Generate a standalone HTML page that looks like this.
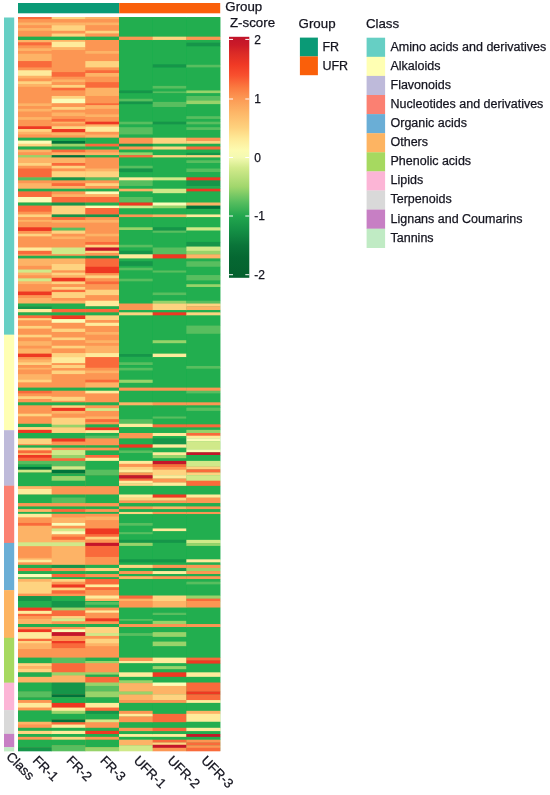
<!DOCTYPE html>
<html><head><meta charset="utf-8"><title>Heatmap</title>
<style>
html,body{margin:0;padding:0;background:#fff;}
body{width:550px;height:795px;overflow:hidden;font-family:"Liberation Sans",sans-serif;}
svg{display:block}
.h{font-family:"Liberation Sans",sans-serif;font-size:13.3px;fill:#14141f;stroke:#14141f;stroke-width:0.25px;}
.k{font-family:"Liberation Sans",sans-serif;font-size:12px;fill:#14141f;stroke:#14141f;stroke-width:0.25px;}
.t{font-family:"Liberation Sans",sans-serif;font-size:12.5px;fill:#14141f;stroke:#14141f;stroke-width:0.25px;}
</style></head><body>
<svg width="550" height="795" viewBox="0 0 550 795">
<defs>
<linearGradient id="zs" x1="0" y1="0" x2="0" y2="1">
<stop offset="0" stop-color="#c0142a"/>
<stop offset="0.034" stop-color="#cb1a28"/>
<stop offset="0.066" stop-color="#da2a26"/>
<stop offset="0.116" stop-color="#f03a25"/>
<stop offset="0.16" stop-color="#f8502e"/>
<stop offset="0.21" stop-color="#fb7a40"/>
<stop offset="0.258" stop-color="#fc9a55"/>
<stop offset="0.316" stop-color="#fdb768"/>
<stop offset="0.378" stop-color="#fed27e"/>
<stop offset="0.423" stop-color="#feea98"/>
<stop offset="0.47" stop-color="#fcfbb0"/>
<stop offset="0.5" stop-color="#f4fab2"/>
<stop offset="0.544" stop-color="#d2ea8b"/>
<stop offset="0.623" stop-color="#a0d66c"/>
<stop offset="0.685" stop-color="#58be5f"/>
<stop offset="0.7435" stop-color="#22a74e"/>
<stop offset="0.804" stop-color="#148f45"/>
<stop offset="0.866" stop-color="#0a7439"/>
<stop offset="0.914" stop-color="#056832"/>
<stop offset="1" stop-color="#04602e"/>
</linearGradient>
<filter id="bl" x="-0.02" y="-0.01" width="1.04" height="1.02"><feGaussianBlur stdDeviation="0.35 0.75"/></filter>
</defs>
<rect width="550" height="795" fill="#fff"/>
<rect x="18" y="3" width="101.2" height="10.3" fill="#0a9a76"/>
<rect x="119.2" y="3" width="101" height="10.3" fill="#fa5f0a"/>
<g id="hm" filter="url(#bl)">
<rect x="18" y="17.5" width="101.2" height="733.5" fill="#fc9653"/>
<rect x="119.2" y="17.5" width="101" height="733.5" fill="#20ae4f"/>
<rect x="18.00" y="17.00" width="33.97" height="2.50" fill="#f96a3a"/>
<rect x="18.00" y="19.20" width="33.97" height="3.61" fill="#fc9653"/>
<rect x="18.00" y="22.51" width="33.97" height="3.05" fill="#fdb366"/>
<rect x="18.00" y="25.26" width="33.97" height="3.05" fill="#fc9653"/>
<rect x="18.00" y="28.02" width="33.97" height="3.05" fill="#fdb366"/>
<rect x="18.00" y="30.77" width="33.97" height="6.18" fill="#fc9653"/>
<rect x="18.00" y="36.65" width="33.97" height="3.61" fill="#20ae4f"/>
<rect x="18.00" y="39.96" width="33.97" height="2.69" fill="#fdb366"/>
<rect x="18.00" y="42.34" width="33.97" height="3.42" fill="#f96a3a"/>
<rect x="18.00" y="45.47" width="33.97" height="3.05" fill="#fc9653"/>
<rect x="18.00" y="48.22" width="33.97" height="3.05" fill="#fdb366"/>
<rect x="18.00" y="50.98" width="33.97" height="3.05" fill="#fc9653"/>
<rect x="18.00" y="53.73" width="33.97" height="7.65" fill="#fdb366"/>
<rect x="18.00" y="61.08" width="33.97" height="6.73" fill="#f96a3a"/>
<rect x="18.00" y="67.51" width="33.97" height="3.05" fill="#fc9653"/>
<rect x="18.00" y="70.26" width="33.97" height="5.81" fill="#feeb9c"/>
<rect x="18.00" y="75.77" width="33.97" height="3.05" fill="#fdb366"/>
<rect x="18.00" y="78.52" width="33.97" height="3.05" fill="#fc9653"/>
<rect x="18.00" y="81.28" width="33.97" height="3.05" fill="#fed380"/>
<rect x="18.00" y="84.03" width="33.97" height="3.05" fill="#fdb366"/>
<rect x="18.00" y="86.79" width="33.97" height="16.83" fill="#fc9653"/>
<rect x="18.00" y="103.32" width="33.97" height="3.05" fill="#fdb366"/>
<rect x="18.00" y="106.07" width="33.97" height="3.05" fill="#fc9653"/>
<rect x="18.00" y="108.83" width="33.97" height="3.05" fill="#fdb366"/>
<rect x="18.00" y="111.58" width="33.97" height="5.81" fill="#fc9653"/>
<rect x="18.00" y="117.09" width="33.97" height="3.05" fill="#fdb366"/>
<rect x="18.00" y="119.85" width="33.97" height="6.73" fill="#fc9653"/>
<rect x="18.00" y="126.27" width="33.97" height="3.05" fill="#ee3824"/>
<rect x="18.00" y="129.03" width="33.97" height="3.05" fill="#fed380"/>
<rect x="18.00" y="131.78" width="33.97" height="3.05" fill="#fdb366"/>
<rect x="18.00" y="134.54" width="33.97" height="3.42" fill="#fc9653"/>
<rect x="18.00" y="137.66" width="33.97" height="3.24" fill="#20ae4f"/>
<rect x="18.00" y="140.60" width="33.97" height="3.42" fill="#fbfcb8"/>
<rect x="18.00" y="143.72" width="33.97" height="3.05" fill="#fed380"/>
<rect x="18.00" y="146.48" width="33.97" height="3.42" fill="#20ae4f"/>
<rect x="18.00" y="149.60" width="33.97" height="3.05" fill="#fdb366"/>
<rect x="18.00" y="152.35" width="33.97" height="3.05" fill="#fc9653"/>
<rect x="18.00" y="155.11" width="33.97" height="2.69" fill="#98d36a"/>
<rect x="18.00" y="157.50" width="33.97" height="5.81" fill="#fdb366"/>
<rect x="51.67" y="17.00" width="33.97" height="2.50" fill="#fed380"/>
<rect x="51.67" y="19.20" width="33.97" height="3.61" fill="#fc9653"/>
<rect x="51.67" y="22.51" width="33.97" height="3.05" fill="#fdb366"/>
<rect x="51.67" y="25.26" width="33.97" height="5.81" fill="#fed380"/>
<rect x="51.67" y="30.77" width="33.97" height="3.05" fill="#fc9653"/>
<rect x="51.67" y="33.53" width="33.97" height="3.42" fill="#fed380"/>
<rect x="51.67" y="36.65" width="33.97" height="3.61" fill="#20ae4f"/>
<rect x="51.67" y="39.96" width="33.97" height="2.14" fill="#fdb366"/>
<rect x="51.67" y="41.79" width="33.97" height="5.81" fill="#feeb9c"/>
<rect x="51.67" y="47.30" width="33.97" height="3.05" fill="#fdb366"/>
<rect x="51.67" y="50.06" width="33.97" height="22.34" fill="#fc9653"/>
<rect x="51.67" y="72.10" width="33.97" height="4.89" fill="#f96a3a"/>
<rect x="51.67" y="76.69" width="33.97" height="3.05" fill="#fc9653"/>
<rect x="51.67" y="79.44" width="33.97" height="3.05" fill="#fdb366"/>
<rect x="51.67" y="82.20" width="33.97" height="3.05" fill="#fc9653"/>
<rect x="51.67" y="84.95" width="33.97" height="3.05" fill="#fed380"/>
<rect x="51.67" y="87.71" width="33.97" height="3.05" fill="#f96a3a"/>
<rect x="51.67" y="90.46" width="33.97" height="5.81" fill="#fc9653"/>
<rect x="51.67" y="95.97" width="33.97" height="3.05" fill="#fed380"/>
<rect x="51.67" y="98.73" width="33.97" height="4.89" fill="#fbfcb8"/>
<rect x="51.67" y="103.32" width="33.97" height="3.97" fill="#fc9653"/>
<rect x="51.67" y="106.99" width="33.97" height="3.05" fill="#fed380"/>
<rect x="51.67" y="109.75" width="33.97" height="3.05" fill="#fc9653"/>
<rect x="51.67" y="112.50" width="33.97" height="3.97" fill="#fdb366"/>
<rect x="51.67" y="116.17" width="33.97" height="3.05" fill="#fc9653"/>
<rect x="51.67" y="118.93" width="33.97" height="3.05" fill="#f96a3a"/>
<rect x="51.67" y="121.68" width="33.97" height="2.14" fill="#fdb366"/>
<rect x="51.67" y="123.52" width="33.97" height="3.05" fill="#fc9653"/>
<rect x="51.67" y="126.27" width="33.97" height="3.05" fill="#fed380"/>
<rect x="51.67" y="129.03" width="33.97" height="3.61" fill="#ee3824"/>
<rect x="51.67" y="132.34" width="33.97" height="3.42" fill="#fdb366"/>
<rect x="51.67" y="135.46" width="33.97" height="2.50" fill="#fc9653"/>
<rect x="51.67" y="137.66" width="33.97" height="3.61" fill="#20ae4f"/>
<rect x="51.67" y="140.97" width="33.97" height="3.05" fill="#06733a"/>
<rect x="51.67" y="143.72" width="33.97" height="3.05" fill="#98d36a"/>
<rect x="51.67" y="146.48" width="33.97" height="3.42" fill="#20ae4f"/>
<rect x="51.67" y="149.60" width="33.97" height="3.05" fill="#f96a3a"/>
<rect x="51.67" y="152.35" width="33.97" height="3.05" fill="#fdb366"/>
<rect x="51.67" y="155.11" width="33.97" height="2.69" fill="#06733a"/>
<rect x="51.67" y="157.50" width="33.97" height="5.81" fill="#fdb366"/>
<rect x="85.34" y="17.00" width="33.97" height="2.50" fill="#fdb366"/>
<rect x="85.34" y="19.20" width="33.97" height="3.61" fill="#fc9653"/>
<rect x="85.34" y="22.51" width="33.97" height="3.05" fill="#fdb366"/>
<rect x="85.34" y="25.26" width="33.97" height="5.81" fill="#fc9653"/>
<rect x="85.34" y="30.77" width="33.97" height="3.05" fill="#fed380"/>
<rect x="85.34" y="33.53" width="33.97" height="3.42" fill="#fc9653"/>
<rect x="85.34" y="36.65" width="33.97" height="3.61" fill="#20ae4f"/>
<rect x="85.34" y="39.96" width="33.97" height="11.32" fill="#fc9653"/>
<rect x="85.34" y="50.98" width="33.97" height="3.05" fill="#fdb366"/>
<rect x="85.34" y="53.73" width="33.97" height="7.65" fill="#fc9653"/>
<rect x="85.34" y="61.08" width="33.97" height="6.73" fill="#fed380"/>
<rect x="85.34" y="67.51" width="33.97" height="3.05" fill="#fc9653"/>
<rect x="85.34" y="70.26" width="33.97" height="3.05" fill="#f96a3a"/>
<rect x="85.34" y="73.01" width="33.97" height="3.97" fill="#fdb366"/>
<rect x="85.34" y="76.69" width="33.97" height="5.81" fill="#fc9653"/>
<rect x="85.34" y="82.20" width="33.97" height="5.81" fill="#f96a3a"/>
<rect x="85.34" y="87.71" width="33.97" height="8.56" fill="#fdb366"/>
<rect x="85.34" y="95.97" width="33.97" height="7.65" fill="#fc9653"/>
<rect x="85.34" y="103.32" width="33.97" height="2.14" fill="#f96a3a"/>
<rect x="85.34" y="105.15" width="33.97" height="3.97" fill="#fdb366"/>
<rect x="85.34" y="108.83" width="33.97" height="5.81" fill="#fc9653"/>
<rect x="85.34" y="114.34" width="33.97" height="3.05" fill="#fdb366"/>
<rect x="85.34" y="117.09" width="33.97" height="4.89" fill="#fc9653"/>
<rect x="85.34" y="121.68" width="33.97" height="3.05" fill="#ee3824"/>
<rect x="85.34" y="124.44" width="33.97" height="2.50" fill="#fdb366"/>
<rect x="85.34" y="126.64" width="33.97" height="5.44" fill="#feeb9c"/>
<rect x="85.34" y="131.78" width="33.97" height="3.05" fill="#fc9653"/>
<rect x="85.34" y="134.54" width="33.97" height="3.42" fill="#fdb366"/>
<rect x="85.34" y="137.66" width="33.97" height="6.36" fill="#20ae4f"/>
<rect x="85.34" y="143.72" width="33.97" height="3.05" fill="#f96a3a"/>
<rect x="85.34" y="146.48" width="33.97" height="3.42" fill="#20ae4f"/>
<rect x="85.34" y="149.60" width="33.97" height="3.05" fill="#fc9653"/>
<rect x="85.34" y="152.35" width="33.97" height="3.05" fill="#fdb366"/>
<rect x="85.34" y="155.11" width="33.97" height="2.69" fill="#20ae4f"/>
<rect x="85.34" y="157.50" width="33.97" height="5.81" fill="#fc9653"/>
<rect x="119.01" y="17.00" width="33.97" height="19.95" fill="#20ae4f"/>
<rect x="119.01" y="36.65" width="33.97" height="3.61" fill="#fc9653"/>
<rect x="119.01" y="39.96" width="33.97" height="50.81" fill="#20ae4f"/>
<rect x="119.01" y="90.46" width="33.97" height="3.05" fill="#13954a"/>
<rect x="119.01" y="93.22" width="33.97" height="5.81" fill="#20ae4f"/>
<rect x="119.01" y="98.73" width="33.97" height="3.05" fill="#58be5f"/>
<rect x="119.01" y="101.48" width="33.97" height="3.05" fill="#13954a"/>
<rect x="119.01" y="104.24" width="33.97" height="17.75" fill="#20ae4f"/>
<rect x="119.01" y="121.68" width="33.97" height="3.05" fill="#58be5f"/>
<rect x="119.01" y="124.44" width="33.97" height="3.05" fill="#20ae4f"/>
<rect x="119.01" y="127.19" width="33.97" height="7.65" fill="#58be5f"/>
<rect x="119.01" y="134.54" width="33.97" height="3.42" fill="#20ae4f"/>
<rect x="119.01" y="137.66" width="33.97" height="6.36" fill="#fc9653"/>
<rect x="119.01" y="143.72" width="33.97" height="3.05" fill="#13954a"/>
<rect x="119.01" y="146.48" width="33.97" height="3.42" fill="#fc9653"/>
<rect x="119.01" y="149.60" width="33.97" height="3.05" fill="#20ae4f"/>
<rect x="119.01" y="152.35" width="33.97" height="3.05" fill="#98d36a"/>
<rect x="119.01" y="155.11" width="33.97" height="2.69" fill="#f96a3a"/>
<rect x="119.01" y="157.50" width="33.97" height="5.81" fill="#20ae4f"/>
<rect x="152.68" y="17.00" width="33.97" height="19.95" fill="#20ae4f"/>
<rect x="152.68" y="36.65" width="33.97" height="3.61" fill="#fed380"/>
<rect x="152.68" y="39.96" width="33.97" height="24.73" fill="#20ae4f"/>
<rect x="152.68" y="64.38" width="33.97" height="3.42" fill="#13954a"/>
<rect x="152.68" y="67.51" width="33.97" height="18.67" fill="#20ae4f"/>
<rect x="152.68" y="85.87" width="33.97" height="3.05" fill="#58be5f"/>
<rect x="152.68" y="88.63" width="33.97" height="3.05" fill="#20ae4f"/>
<rect x="152.68" y="91.38" width="33.97" height="2.14" fill="#58be5f"/>
<rect x="152.68" y="93.22" width="33.97" height="8.93" fill="#20ae4f"/>
<rect x="152.68" y="101.85" width="33.97" height="5.44" fill="#58be5f"/>
<rect x="152.68" y="106.99" width="33.97" height="14.99" fill="#20ae4f"/>
<rect x="152.68" y="121.68" width="33.97" height="3.05" fill="#13954a"/>
<rect x="152.68" y="124.44" width="33.97" height="13.52" fill="#20ae4f"/>
<rect x="152.68" y="137.66" width="33.97" height="6.36" fill="#fed380"/>
<rect x="152.68" y="143.72" width="33.97" height="3.05" fill="#20ae4f"/>
<rect x="152.68" y="146.48" width="33.97" height="3.42" fill="#fed380"/>
<rect x="152.68" y="149.60" width="33.97" height="5.81" fill="#20ae4f"/>
<rect x="152.68" y="155.11" width="33.97" height="2.69" fill="#fed380"/>
<rect x="152.68" y="157.50" width="33.97" height="5.81" fill="#20ae4f"/>
<rect x="186.35" y="17.00" width="33.97" height="19.95" fill="#20ae4f"/>
<rect x="186.35" y="36.65" width="33.97" height="3.61" fill="#fc9653"/>
<rect x="186.35" y="39.96" width="33.97" height="3.05" fill="#20ae4f"/>
<rect x="186.35" y="42.71" width="33.97" height="3.97" fill="#13954a"/>
<rect x="186.35" y="46.38" width="33.97" height="18.67" fill="#20ae4f"/>
<rect x="186.35" y="64.75" width="33.97" height="3.05" fill="#58be5f"/>
<rect x="186.35" y="67.51" width="33.97" height="23.26" fill="#20ae4f"/>
<rect x="186.35" y="90.46" width="33.97" height="3.05" fill="#98d36a"/>
<rect x="186.35" y="93.22" width="33.97" height="3.05" fill="#20ae4f"/>
<rect x="186.35" y="95.97" width="33.97" height="4.89" fill="#58be5f"/>
<rect x="186.35" y="100.56" width="33.97" height="3.97" fill="#98d36a"/>
<rect x="186.35" y="104.24" width="33.97" height="12.24" fill="#20ae4f"/>
<rect x="186.35" y="116.17" width="33.97" height="3.05" fill="#58be5f"/>
<rect x="186.35" y="118.93" width="33.97" height="3.05" fill="#20ae4f"/>
<rect x="186.35" y="121.68" width="33.97" height="3.05" fill="#58be5f"/>
<rect x="186.35" y="124.44" width="33.97" height="3.05" fill="#20ae4f"/>
<rect x="186.35" y="127.19" width="33.97" height="3.05" fill="#58be5f"/>
<rect x="186.35" y="129.95" width="33.97" height="8.01" fill="#20ae4f"/>
<rect x="186.35" y="137.66" width="33.97" height="3.61" fill="#fc9653"/>
<rect x="186.35" y="140.97" width="33.97" height="3.05" fill="#fed380"/>
<rect x="186.35" y="143.72" width="33.97" height="3.05" fill="#20ae4f"/>
<rect x="186.35" y="146.48" width="33.97" height="3.42" fill="#f96a3a"/>
<rect x="186.35" y="149.60" width="33.97" height="3.61" fill="#20ae4f"/>
<rect x="186.35" y="152.90" width="33.97" height="2.50" fill="#13954a"/>
<rect x="186.35" y="155.11" width="33.97" height="2.69" fill="#fed380"/>
<rect x="186.35" y="157.50" width="33.97" height="3.05" fill="#20ae4f"/>
<rect x="186.35" y="160.25" width="33.97" height="3.05" fill="#58be5f"/>
<rect x="18.00" y="163.00" width="33.97" height="3.05" fill="#fed380"/>
<rect x="18.00" y="165.75" width="33.97" height="3.05" fill="#fc9653"/>
<rect x="18.00" y="168.51" width="33.97" height="9.12" fill="#f96a3a"/>
<rect x="18.00" y="177.33" width="33.97" height="3.42" fill="#58be5f"/>
<rect x="18.00" y="180.45" width="33.97" height="3.05" fill="#fc9653"/>
<rect x="18.00" y="183.20" width="33.97" height="5.81" fill="#fdb366"/>
<rect x="18.00" y="188.71" width="33.97" height="3.05" fill="#20ae4f"/>
<rect x="18.00" y="191.47" width="33.97" height="5.81" fill="#f96a3a"/>
<rect x="18.00" y="196.98" width="33.97" height="5.81" fill="#fbfcb8"/>
<rect x="18.00" y="202.49" width="33.97" height="3.42" fill="#20ae4f"/>
<rect x="18.00" y="205.61" width="33.97" height="6.36" fill="#f96a3a"/>
<rect x="18.00" y="211.67" width="33.97" height="3.05" fill="#fc9653"/>
<rect x="18.00" y="214.42" width="33.97" height="3.05" fill="#fed380"/>
<rect x="18.00" y="217.18" width="33.97" height="3.05" fill="#fc9653"/>
<rect x="18.00" y="219.93" width="33.97" height="2.14" fill="#fdb366"/>
<rect x="18.00" y="221.77" width="33.97" height="5.81" fill="#fc9653"/>
<rect x="18.00" y="227.28" width="33.97" height="3.97" fill="#ee3824"/>
<rect x="18.00" y="230.95" width="33.97" height="3.05" fill="#fc9653"/>
<rect x="18.00" y="233.71" width="33.97" height="3.05" fill="#fed380"/>
<rect x="18.00" y="236.46" width="33.97" height="11.32" fill="#fc9653"/>
<rect x="18.00" y="247.48" width="33.97" height="3.61" fill="#feeb9c"/>
<rect x="18.00" y="250.79" width="33.97" height="3.79" fill="#f96a3a"/>
<rect x="18.00" y="254.28" width="33.97" height="1.77" fill="#fc9653"/>
<rect x="18.00" y="255.75" width="33.97" height="3.05" fill="#20ae4f"/>
<rect x="18.00" y="258.50" width="33.97" height="7.65" fill="#fdb366"/>
<rect x="18.00" y="265.85" width="33.97" height="3.97" fill="#fc9653"/>
<rect x="18.00" y="269.52" width="33.97" height="3.42" fill="#d0e989"/>
<rect x="18.00" y="272.64" width="33.97" height="3.05" fill="#fdb366"/>
<rect x="18.00" y="275.40" width="33.97" height="3.24" fill="#fc9653"/>
<rect x="18.00" y="278.34" width="33.97" height="3.42" fill="#d0e989"/>
<rect x="18.00" y="281.46" width="33.97" height="3.05" fill="#fdb366"/>
<rect x="18.00" y="284.21" width="33.97" height="7.65" fill="#fc9653"/>
<rect x="18.00" y="291.56" width="33.97" height="3.97" fill="#ee3824"/>
<rect x="18.00" y="295.23" width="33.97" height="3.05" fill="#fc9653"/>
<rect x="18.00" y="297.99" width="33.97" height="5.81" fill="#fdb366"/>
<rect x="18.00" y="303.50" width="33.97" height="3.05" fill="#20ae4f"/>
<rect x="18.00" y="306.25" width="33.97" height="3.05" fill="#13954a"/>
<rect x="51.67" y="163.00" width="33.97" height="3.05" fill="#f96a3a"/>
<rect x="51.67" y="165.75" width="33.97" height="3.05" fill="#fed380"/>
<rect x="51.67" y="168.51" width="33.97" height="3.05" fill="#fc9653"/>
<rect x="51.67" y="171.26" width="33.97" height="6.36" fill="#fed380"/>
<rect x="51.67" y="177.33" width="33.97" height="3.42" fill="#13954a"/>
<rect x="51.67" y="180.45" width="33.97" height="3.05" fill="#fc9653"/>
<rect x="51.67" y="183.20" width="33.97" height="3.05" fill="#f96a3a"/>
<rect x="51.67" y="185.96" width="33.97" height="3.05" fill="#fdb366"/>
<rect x="51.67" y="188.71" width="33.97" height="3.05" fill="#20ae4f"/>
<rect x="51.67" y="191.47" width="33.97" height="3.05" fill="#fc9653"/>
<rect x="51.67" y="194.22" width="33.97" height="3.05" fill="#fdb366"/>
<rect x="51.67" y="196.98" width="33.97" height="5.81" fill="#f96a3a"/>
<rect x="51.67" y="202.49" width="33.97" height="3.42" fill="#13954a"/>
<rect x="51.67" y="205.61" width="33.97" height="9.12" fill="#fed380"/>
<rect x="51.67" y="214.42" width="33.97" height="3.05" fill="#13954a"/>
<rect x="51.67" y="217.18" width="33.97" height="3.05" fill="#f96a3a"/>
<rect x="51.67" y="219.93" width="33.97" height="3.05" fill="#fdb366"/>
<rect x="51.67" y="222.69" width="33.97" height="5.26" fill="#fc9653"/>
<rect x="51.67" y="227.65" width="33.97" height="3.24" fill="#58be5f"/>
<rect x="51.67" y="230.58" width="33.97" height="3.42" fill="#fed380"/>
<rect x="51.67" y="233.71" width="33.97" height="3.05" fill="#fc9653"/>
<rect x="51.67" y="236.46" width="33.97" height="3.05" fill="#fdb366"/>
<rect x="51.67" y="239.22" width="33.97" height="8.56" fill="#fc9653"/>
<rect x="51.67" y="247.48" width="33.97" height="7.10" fill="#d0e989"/>
<rect x="51.67" y="254.28" width="33.97" height="1.77" fill="#fc9653"/>
<rect x="51.67" y="255.75" width="33.97" height="3.05" fill="#20ae4f"/>
<rect x="51.67" y="258.50" width="33.97" height="5.81" fill="#fdb366"/>
<rect x="51.67" y="264.01" width="33.97" height="6.73" fill="#fed380"/>
<rect x="51.67" y="270.44" width="33.97" height="2.50" fill="#fc9653"/>
<rect x="51.67" y="272.64" width="33.97" height="3.05" fill="#fed380"/>
<rect x="51.67" y="275.40" width="33.97" height="2.69" fill="#fdb366"/>
<rect x="51.67" y="277.78" width="33.97" height="3.97" fill="#ee3824"/>
<rect x="51.67" y="281.46" width="33.97" height="3.05" fill="#fed380"/>
<rect x="51.67" y="284.21" width="33.97" height="3.05" fill="#fc9653"/>
<rect x="51.67" y="286.97" width="33.97" height="3.05" fill="#fed380"/>
<rect x="51.67" y="289.72" width="33.97" height="2.69" fill="#f96a3a"/>
<rect x="51.67" y="292.11" width="33.97" height="6.18" fill="#fed380"/>
<rect x="51.67" y="297.99" width="33.97" height="3.05" fill="#fc9653"/>
<rect x="51.67" y="300.74" width="33.97" height="3.05" fill="#fdb366"/>
<rect x="51.67" y="303.50" width="33.97" height="5.81" fill="#20ae4f"/>
<rect x="85.34" y="163.00" width="33.97" height="5.81" fill="#fc9653"/>
<rect x="85.34" y="168.51" width="33.97" height="3.05" fill="#fdb366"/>
<rect x="85.34" y="171.26" width="33.97" height="6.36" fill="#fed380"/>
<rect x="85.34" y="177.33" width="33.97" height="3.42" fill="#58be5f"/>
<rect x="85.34" y="180.45" width="33.97" height="3.05" fill="#fc9653"/>
<rect x="85.34" y="183.20" width="33.97" height="3.05" fill="#fed380"/>
<rect x="85.34" y="185.96" width="33.97" height="3.05" fill="#fc9653"/>
<rect x="85.34" y="188.71" width="33.97" height="3.05" fill="#20ae4f"/>
<rect x="85.34" y="191.47" width="33.97" height="3.05" fill="#fbfcb8"/>
<rect x="85.34" y="194.22" width="33.97" height="3.05" fill="#fdb366"/>
<rect x="85.34" y="196.98" width="33.97" height="5.81" fill="#f96a3a"/>
<rect x="85.34" y="202.49" width="33.97" height="3.42" fill="#20ae4f"/>
<rect x="85.34" y="205.61" width="33.97" height="2.69" fill="#fbfcb8"/>
<rect x="85.34" y="208.00" width="33.97" height="6.73" fill="#f96a3a"/>
<rect x="85.34" y="214.42" width="33.97" height="3.05" fill="#13954a"/>
<rect x="85.34" y="217.18" width="33.97" height="3.05" fill="#fc9653"/>
<rect x="85.34" y="219.93" width="33.97" height="3.05" fill="#fdb366"/>
<rect x="85.34" y="222.69" width="33.97" height="11.32" fill="#fc9653"/>
<rect x="85.34" y="233.71" width="33.97" height="3.05" fill="#fdb366"/>
<rect x="85.34" y="236.46" width="33.97" height="5.81" fill="#fc9653"/>
<rect x="85.34" y="241.97" width="33.97" height="3.05" fill="#f96a3a"/>
<rect x="85.34" y="244.73" width="33.97" height="3.05" fill="#fed380"/>
<rect x="85.34" y="247.48" width="33.97" height="3.61" fill="#c4182a"/>
<rect x="85.34" y="250.79" width="33.97" height="2.50" fill="#fed380"/>
<rect x="85.34" y="252.99" width="33.97" height="3.05" fill="#fc9653"/>
<rect x="85.34" y="255.75" width="33.97" height="3.05" fill="#13954a"/>
<rect x="85.34" y="258.50" width="33.97" height="8.56" fill="#f96a3a"/>
<rect x="85.34" y="266.76" width="33.97" height="6.73" fill="#ee3824"/>
<rect x="85.34" y="273.19" width="33.97" height="2.50" fill="#fc9653"/>
<rect x="85.34" y="275.40" width="33.97" height="3.24" fill="#fed380"/>
<rect x="85.34" y="278.34" width="33.97" height="3.42" fill="#fc9653"/>
<rect x="85.34" y="281.46" width="33.97" height="3.05" fill="#f96a3a"/>
<rect x="85.34" y="284.21" width="33.97" height="5.81" fill="#fc9653"/>
<rect x="85.34" y="289.72" width="33.97" height="5.81" fill="#fed380"/>
<rect x="85.34" y="295.23" width="33.97" height="5.81" fill="#fc9653"/>
<rect x="85.34" y="300.74" width="33.97" height="5.81" fill="#feeb9c"/>
<rect x="85.34" y="306.25" width="33.97" height="3.05" fill="#20ae4f"/>
<rect x="119.01" y="163.00" width="33.97" height="3.05" fill="#20ae4f"/>
<rect x="119.01" y="165.75" width="33.97" height="3.05" fill="#58be5f"/>
<rect x="119.01" y="168.51" width="33.97" height="3.97" fill="#13954a"/>
<rect x="119.01" y="172.18" width="33.97" height="5.44" fill="#20ae4f"/>
<rect x="119.01" y="177.33" width="33.97" height="3.42" fill="#feeb9c"/>
<rect x="119.01" y="180.45" width="33.97" height="5.81" fill="#58be5f"/>
<rect x="119.01" y="185.96" width="33.97" height="3.05" fill="#20ae4f"/>
<rect x="119.01" y="188.71" width="33.97" height="3.05" fill="#fdb366"/>
<rect x="119.01" y="191.47" width="33.97" height="5.81" fill="#20ae4f"/>
<rect x="119.01" y="196.98" width="33.97" height="5.81" fill="#58be5f"/>
<rect x="119.01" y="202.49" width="33.97" height="3.42" fill="#ee3824"/>
<rect x="119.01" y="205.61" width="33.97" height="3.05" fill="#d0e989"/>
<rect x="119.01" y="208.36" width="33.97" height="6.36" fill="#20ae4f"/>
<rect x="119.01" y="214.42" width="33.97" height="3.05" fill="#fc9653"/>
<rect x="119.01" y="217.18" width="33.97" height="10.40" fill="#20ae4f"/>
<rect x="119.01" y="227.28" width="33.97" height="3.05" fill="#98d36a"/>
<rect x="119.01" y="230.03" width="33.97" height="14.99" fill="#20ae4f"/>
<rect x="119.01" y="244.73" width="33.97" height="3.05" fill="#58be5f"/>
<rect x="119.01" y="247.48" width="33.97" height="3.61" fill="#20ae4f"/>
<rect x="119.01" y="250.79" width="33.97" height="3.79" fill="#13954a"/>
<rect x="119.01" y="254.28" width="33.97" height="4.52" fill="#feeb9c"/>
<rect x="119.01" y="258.50" width="33.97" height="3.05" fill="#20ae4f"/>
<rect x="119.01" y="261.26" width="33.97" height="4.89" fill="#13954a"/>
<rect x="119.01" y="265.85" width="33.97" height="2.14" fill="#20ae4f"/>
<rect x="119.01" y="267.68" width="33.97" height="3.05" fill="#58be5f"/>
<rect x="119.01" y="270.44" width="33.97" height="8.56" fill="#20ae4f"/>
<rect x="119.01" y="278.70" width="33.97" height="3.05" fill="#58be5f"/>
<rect x="119.01" y="281.46" width="33.97" height="22.34" fill="#20ae4f"/>
<rect x="119.01" y="303.50" width="33.97" height="5.81" fill="#fc9653"/>
<rect x="152.68" y="163.00" width="33.97" height="14.63" fill="#20ae4f"/>
<rect x="152.68" y="177.33" width="33.97" height="3.42" fill="#d0e989"/>
<rect x="152.68" y="180.45" width="33.97" height="8.56" fill="#20ae4f"/>
<rect x="152.68" y="188.71" width="33.97" height="4.89" fill="#d0e989"/>
<rect x="152.68" y="193.30" width="33.97" height="9.48" fill="#20ae4f"/>
<rect x="152.68" y="202.49" width="33.97" height="3.42" fill="#fbfcb8"/>
<rect x="152.68" y="205.61" width="33.97" height="3.05" fill="#98d36a"/>
<rect x="152.68" y="208.36" width="33.97" height="6.36" fill="#20ae4f"/>
<rect x="152.68" y="214.42" width="33.97" height="3.05" fill="#fdb366"/>
<rect x="152.68" y="217.18" width="33.97" height="10.40" fill="#20ae4f"/>
<rect x="152.68" y="227.28" width="33.97" height="3.61" fill="#13954a"/>
<rect x="152.68" y="230.58" width="33.97" height="2.50" fill="#58be5f"/>
<rect x="152.68" y="232.79" width="33.97" height="14.99" fill="#20ae4f"/>
<rect x="152.68" y="247.48" width="33.97" height="7.10" fill="#58be5f"/>
<rect x="152.68" y="254.28" width="33.97" height="4.52" fill="#ee3824"/>
<rect x="152.68" y="258.50" width="33.97" height="12.24" fill="#20ae4f"/>
<rect x="152.68" y="270.44" width="33.97" height="2.50" fill="#58be5f"/>
<rect x="152.68" y="272.64" width="33.97" height="20.13" fill="#20ae4f"/>
<rect x="152.68" y="292.48" width="33.97" height="3.05" fill="#58be5f"/>
<rect x="152.68" y="295.23" width="33.97" height="5.81" fill="#20ae4f"/>
<rect x="152.68" y="300.74" width="33.97" height="3.05" fill="#98d36a"/>
<rect x="152.68" y="303.50" width="33.97" height="5.81" fill="#fed380"/>
<rect x="186.35" y="163.00" width="33.97" height="5.81" fill="#20ae4f"/>
<rect x="186.35" y="168.51" width="33.97" height="3.97" fill="#58be5f"/>
<rect x="186.35" y="172.18" width="33.97" height="5.44" fill="#20ae4f"/>
<rect x="186.35" y="177.33" width="33.97" height="3.42" fill="#ee3824"/>
<rect x="186.35" y="180.45" width="33.97" height="5.81" fill="#13954a"/>
<rect x="186.35" y="185.96" width="33.97" height="3.05" fill="#20ae4f"/>
<rect x="186.35" y="188.71" width="33.97" height="3.05" fill="#ee3824"/>
<rect x="186.35" y="191.47" width="33.97" height="11.32" fill="#20ae4f"/>
<rect x="186.35" y="202.49" width="33.97" height="3.42" fill="#fdb366"/>
<rect x="186.35" y="205.61" width="33.97" height="3.61" fill="#06733a"/>
<rect x="186.35" y="208.91" width="33.97" height="5.81" fill="#20ae4f"/>
<rect x="186.35" y="214.42" width="33.97" height="3.05" fill="#feeb9c"/>
<rect x="186.35" y="217.18" width="33.97" height="10.40" fill="#20ae4f"/>
<rect x="186.35" y="227.28" width="33.97" height="3.61" fill="#d0e989"/>
<rect x="186.35" y="230.58" width="33.97" height="11.69" fill="#20ae4f"/>
<rect x="186.35" y="241.97" width="33.97" height="4.89" fill="#13954a"/>
<rect x="186.35" y="246.56" width="33.97" height="4.52" fill="#d0e989"/>
<rect x="186.35" y="250.79" width="33.97" height="3.79" fill="#98d36a"/>
<rect x="186.35" y="254.28" width="33.97" height="4.52" fill="#fdb366"/>
<rect x="186.35" y="258.50" width="33.97" height="3.05" fill="#20ae4f"/>
<rect x="186.35" y="261.26" width="33.97" height="5.81" fill="#58be5f"/>
<rect x="186.35" y="266.76" width="33.97" height="8.56" fill="#20ae4f"/>
<rect x="186.35" y="275.03" width="33.97" height="5.81" fill="#58be5f"/>
<rect x="186.35" y="280.54" width="33.97" height="3.97" fill="#20ae4f"/>
<rect x="186.35" y="284.21" width="33.97" height="3.05" fill="#98d36a"/>
<rect x="186.35" y="286.97" width="33.97" height="14.07" fill="#20ae4f"/>
<rect x="186.35" y="300.74" width="33.97" height="3.05" fill="#58be5f"/>
<rect x="186.35" y="303.50" width="33.97" height="3.05" fill="#fed380"/>
<rect x="186.35" y="306.25" width="33.97" height="3.05" fill="#fdb366"/>
<rect x="18.00" y="309.00" width="33.97" height="3.61" fill="#feeb9c"/>
<rect x="18.00" y="312.31" width="33.97" height="3.42" fill="#20ae4f"/>
<rect x="18.00" y="315.43" width="33.97" height="3.05" fill="#f96a3a"/>
<rect x="18.00" y="318.18" width="33.97" height="2.50" fill="#fed380"/>
<rect x="18.00" y="320.39" width="33.97" height="5.81" fill="#fc9653"/>
<rect x="18.00" y="325.90" width="33.97" height="3.05" fill="#fed380"/>
<rect x="18.00" y="328.65" width="33.97" height="6.36" fill="#fc9653"/>
<rect x="18.00" y="334.71" width="33.97" height="3.05" fill="#fed380"/>
<rect x="18.00" y="337.47" width="33.97" height="3.97" fill="#fc9653"/>
<rect x="18.00" y="341.14" width="33.97" height="4.89" fill="#fdb366"/>
<rect x="18.00" y="345.73" width="33.97" height="3.05" fill="#fc9653"/>
<rect x="18.00" y="348.49" width="33.97" height="5.44" fill="#fdb366"/>
<rect x="18.00" y="353.63" width="33.97" height="3.79" fill="#ee3824"/>
<rect x="18.00" y="357.12" width="33.97" height="2.69" fill="#fc9653"/>
<rect x="18.00" y="359.51" width="33.97" height="3.05" fill="#fdb366"/>
<rect x="18.00" y="362.26" width="33.97" height="3.05" fill="#fed380"/>
<rect x="18.00" y="365.01" width="33.97" height="3.05" fill="#fc9653"/>
<rect x="18.00" y="367.77" width="33.97" height="2.14" fill="#fdb366"/>
<rect x="18.00" y="369.61" width="33.97" height="4.89" fill="#fc9653"/>
<rect x="18.00" y="374.20" width="33.97" height="5.81" fill="#fdb366"/>
<rect x="18.00" y="379.71" width="33.97" height="3.05" fill="#fed380"/>
<rect x="18.00" y="382.46" width="33.97" height="5.44" fill="#fc9653"/>
<rect x="18.00" y="387.60" width="33.97" height="3.42" fill="#20ae4f"/>
<rect x="18.00" y="390.73" width="33.97" height="3.05" fill="#f96a3a"/>
<rect x="18.00" y="393.48" width="33.97" height="3.05" fill="#fc9653"/>
<rect x="18.00" y="396.24" width="33.97" height="3.05" fill="#fed380"/>
<rect x="18.00" y="398.99" width="33.97" height="3.61" fill="#fc9653"/>
<rect x="18.00" y="402.30" width="33.97" height="3.42" fill="#20ae4f"/>
<rect x="18.00" y="405.42" width="33.97" height="8.56" fill="#fc9653"/>
<rect x="18.00" y="413.68" width="33.97" height="3.05" fill="#fed380"/>
<rect x="18.00" y="416.44" width="33.97" height="7.65" fill="#fc9653"/>
<rect x="18.00" y="423.78" width="33.97" height="3.61" fill="#20ae4f"/>
<rect x="18.00" y="427.09" width="33.97" height="3.05" fill="#fed380"/>
<rect x="18.00" y="429.84" width="33.97" height="3.42" fill="#ee3824"/>
<rect x="18.00" y="432.97" width="33.97" height="5.81" fill="#20ae4f"/>
<rect x="18.00" y="438.48" width="33.97" height="5.81" fill="#fed380"/>
<rect x="18.00" y="443.99" width="33.97" height="1.59" fill="#fc9653"/>
<rect x="18.00" y="445.27" width="33.97" height="2.69" fill="#20ae4f"/>
<rect x="18.00" y="447.66" width="33.97" height="3.05" fill="#fed380"/>
<rect x="18.00" y="450.41" width="33.97" height="3.05" fill="#f96a3a"/>
<rect x="18.00" y="453.17" width="33.97" height="2.14" fill="#fdb366"/>
<rect x="51.67" y="309.00" width="33.97" height="3.61" fill="#f96a3a"/>
<rect x="51.67" y="312.31" width="33.97" height="3.42" fill="#20ae4f"/>
<rect x="51.67" y="315.43" width="33.97" height="3.97" fill="#ee3824"/>
<rect x="51.67" y="319.10" width="33.97" height="3.97" fill="#fbfcb8"/>
<rect x="51.67" y="322.77" width="33.97" height="6.18" fill="#fc9653"/>
<rect x="51.67" y="328.65" width="33.97" height="3.61" fill="#fed380"/>
<rect x="51.67" y="331.96" width="33.97" height="5.81" fill="#fc9653"/>
<rect x="51.67" y="337.47" width="33.97" height="3.05" fill="#fed380"/>
<rect x="51.67" y="340.22" width="33.97" height="5.81" fill="#fc9653"/>
<rect x="51.67" y="345.73" width="33.97" height="3.05" fill="#fed380"/>
<rect x="51.67" y="348.49" width="33.97" height="4.89" fill="#fc9653"/>
<rect x="51.67" y="353.08" width="33.97" height="4.34" fill="#fed380"/>
<rect x="51.67" y="357.12" width="33.97" height="6.36" fill="#feeb9c"/>
<rect x="51.67" y="363.18" width="33.97" height="2.14" fill="#fc9653"/>
<rect x="51.67" y="365.01" width="33.97" height="3.42" fill="#fed380"/>
<rect x="51.67" y="368.14" width="33.97" height="2.69" fill="#fc9653"/>
<rect x="51.67" y="370.52" width="33.97" height="3.97" fill="#fed380"/>
<rect x="51.67" y="374.20" width="33.97" height="13.71" fill="#fc9653"/>
<rect x="51.67" y="387.60" width="33.97" height="3.42" fill="#20ae4f"/>
<rect x="51.67" y="390.73" width="33.97" height="6.36" fill="#fc9653"/>
<rect x="51.67" y="396.79" width="33.97" height="4.34" fill="#fed380"/>
<rect x="51.67" y="400.83" width="33.97" height="1.77" fill="#fc9653"/>
<rect x="51.67" y="402.30" width="33.97" height="3.42" fill="#20ae4f"/>
<rect x="51.67" y="405.42" width="33.97" height="2.69" fill="#fed380"/>
<rect x="51.67" y="407.81" width="33.97" height="3.42" fill="#ee3824"/>
<rect x="51.67" y="410.93" width="33.97" height="3.05" fill="#fdb366"/>
<rect x="51.67" y="413.68" width="33.97" height="4.34" fill="#fc9653"/>
<rect x="51.67" y="417.72" width="33.97" height="7.28" fill="#fed380"/>
<rect x="51.67" y="424.70" width="33.97" height="3.05" fill="#98d36a"/>
<rect x="51.67" y="427.46" width="33.97" height="5.81" fill="#fed380"/>
<rect x="51.67" y="432.97" width="33.97" height="5.81" fill="#20ae4f"/>
<rect x="51.67" y="438.48" width="33.97" height="3.42" fill="#ee3824"/>
<rect x="51.67" y="441.60" width="33.97" height="3.97" fill="#fc9653"/>
<rect x="51.67" y="445.27" width="33.97" height="2.69" fill="#20ae4f"/>
<rect x="51.67" y="447.66" width="33.97" height="2.69" fill="#fc9653"/>
<rect x="51.67" y="450.05" width="33.97" height="5.26" fill="#d0e989"/>
<rect x="85.34" y="309.00" width="33.97" height="3.61" fill="#f96a3a"/>
<rect x="85.34" y="312.31" width="33.97" height="3.42" fill="#20ae4f"/>
<rect x="85.34" y="315.43" width="33.97" height="4.89" fill="#fed380"/>
<rect x="85.34" y="320.02" width="33.97" height="3.05" fill="#fc9653"/>
<rect x="85.34" y="322.77" width="33.97" height="3.42" fill="#feeb9c"/>
<rect x="85.34" y="325.90" width="33.97" height="6.36" fill="#fc9653"/>
<rect x="85.34" y="331.96" width="33.97" height="3.05" fill="#fdb366"/>
<rect x="85.34" y="334.71" width="33.97" height="5.81" fill="#fc9653"/>
<rect x="85.34" y="340.22" width="33.97" height="3.05" fill="#fdb366"/>
<rect x="85.34" y="342.98" width="33.97" height="3.05" fill="#fc9653"/>
<rect x="85.34" y="345.73" width="33.97" height="7.65" fill="#fdb366"/>
<rect x="85.34" y="353.08" width="33.97" height="4.34" fill="#feeb9c"/>
<rect x="85.34" y="357.12" width="33.97" height="10.95" fill="#f96a3a"/>
<rect x="85.34" y="367.77" width="33.97" height="3.05" fill="#fc9653"/>
<rect x="85.34" y="370.52" width="33.97" height="3.05" fill="#fdb366"/>
<rect x="85.34" y="373.28" width="33.97" height="6.73" fill="#fc9653"/>
<rect x="85.34" y="379.71" width="33.97" height="3.05" fill="#f96a3a"/>
<rect x="85.34" y="382.46" width="33.97" height="5.44" fill="#fdb366"/>
<rect x="85.34" y="387.60" width="33.97" height="3.42" fill="#20ae4f"/>
<rect x="85.34" y="390.73" width="33.97" height="3.05" fill="#feeb9c"/>
<rect x="85.34" y="393.48" width="33.97" height="9.12" fill="#fc9653"/>
<rect x="85.34" y="402.30" width="33.97" height="3.42" fill="#20ae4f"/>
<rect x="85.34" y="405.42" width="33.97" height="3.05" fill="#fc9653"/>
<rect x="85.34" y="408.17" width="33.97" height="3.05" fill="#d0e989"/>
<rect x="85.34" y="410.93" width="33.97" height="5.81" fill="#fc9653"/>
<rect x="85.34" y="416.44" width="33.97" height="3.05" fill="#fdb366"/>
<rect x="85.34" y="419.19" width="33.97" height="3.05" fill="#f96a3a"/>
<rect x="85.34" y="421.95" width="33.97" height="2.69" fill="#fc9653"/>
<rect x="85.34" y="424.34" width="33.97" height="3.42" fill="#20ae4f"/>
<rect x="85.34" y="427.46" width="33.97" height="3.05" fill="#ee3824"/>
<rect x="85.34" y="430.21" width="33.97" height="3.05" fill="#feeb9c"/>
<rect x="85.34" y="432.97" width="33.97" height="3.05" fill="#20ae4f"/>
<rect x="85.34" y="435.72" width="33.97" height="3.05" fill="#58be5f"/>
<rect x="85.34" y="438.48" width="33.97" height="7.10" fill="#fc9653"/>
<rect x="85.34" y="445.27" width="33.97" height="2.69" fill="#20ae4f"/>
<rect x="85.34" y="447.66" width="33.97" height="3.05" fill="#fc9653"/>
<rect x="85.34" y="450.41" width="33.97" height="4.89" fill="#20ae4f"/>
<rect x="119.01" y="309.00" width="33.97" height="1.40" fill="#fc9653"/>
<rect x="119.01" y="310.10" width="33.97" height="2.50" fill="#20ae4f"/>
<rect x="119.01" y="312.31" width="33.97" height="3.42" fill="#fed380"/>
<rect x="119.01" y="315.43" width="33.97" height="38.87" fill="#20ae4f"/>
<rect x="119.01" y="354.00" width="33.97" height="3.05" fill="#13954a"/>
<rect x="119.01" y="356.75" width="33.97" height="5.81" fill="#20ae4f"/>
<rect x="119.01" y="362.26" width="33.97" height="3.05" fill="#58be5f"/>
<rect x="119.01" y="365.01" width="33.97" height="3.05" fill="#20ae4f"/>
<rect x="119.01" y="367.77" width="33.97" height="3.05" fill="#58be5f"/>
<rect x="119.01" y="370.52" width="33.97" height="9.48" fill="#20ae4f"/>
<rect x="119.01" y="379.71" width="33.97" height="3.42" fill="#98d36a"/>
<rect x="119.01" y="382.83" width="33.97" height="5.08" fill="#20ae4f"/>
<rect x="119.01" y="387.60" width="33.97" height="3.42" fill="#fc9653"/>
<rect x="119.01" y="390.73" width="33.97" height="11.87" fill="#20ae4f"/>
<rect x="119.01" y="402.30" width="33.97" height="3.42" fill="#fdb366"/>
<rect x="119.01" y="405.42" width="33.97" height="14.07" fill="#20ae4f"/>
<rect x="119.01" y="419.19" width="33.97" height="4.89" fill="#58be5f"/>
<rect x="119.01" y="423.78" width="33.97" height="3.61" fill="#feeb9c"/>
<rect x="119.01" y="427.09" width="33.97" height="6.18" fill="#20ae4f"/>
<rect x="119.01" y="432.97" width="33.97" height="5.81" fill="#fc9653"/>
<rect x="119.01" y="438.48" width="33.97" height="6.18" fill="#20ae4f"/>
<rect x="119.01" y="444.35" width="33.97" height="3.61" fill="#ee3824"/>
<rect x="119.01" y="447.66" width="33.97" height="3.05" fill="#20ae4f"/>
<rect x="119.01" y="450.41" width="33.97" height="3.05" fill="#58be5f"/>
<rect x="119.01" y="453.17" width="33.97" height="2.14" fill="#20ae4f"/>
<rect x="152.68" y="309.00" width="33.97" height="1.40" fill="#fed380"/>
<rect x="152.68" y="310.10" width="33.97" height="2.50" fill="#20ae4f"/>
<rect x="152.68" y="312.31" width="33.97" height="3.42" fill="#ee3824"/>
<rect x="152.68" y="315.43" width="33.97" height="25.09" fill="#20ae4f"/>
<rect x="152.68" y="340.22" width="33.97" height="3.42" fill="#98d36a"/>
<rect x="152.68" y="343.34" width="33.97" height="10.58" fill="#20ae4f"/>
<rect x="152.68" y="353.63" width="33.97" height="3.79" fill="#feeb9c"/>
<rect x="152.68" y="357.12" width="33.97" height="30.79" fill="#20ae4f"/>
<rect x="152.68" y="387.60" width="33.97" height="3.42" fill="#fc9653"/>
<rect x="152.68" y="390.73" width="33.97" height="11.87" fill="#20ae4f"/>
<rect x="152.68" y="402.30" width="33.97" height="3.42" fill="#fc9653"/>
<rect x="152.68" y="405.42" width="33.97" height="11.32" fill="#20ae4f"/>
<rect x="152.68" y="416.44" width="33.97" height="2.50" fill="#58be5f"/>
<rect x="152.68" y="418.64" width="33.97" height="5.99" fill="#20ae4f"/>
<rect x="152.68" y="424.34" width="33.97" height="3.42" fill="#f96a3a"/>
<rect x="152.68" y="427.46" width="33.97" height="5.81" fill="#20ae4f"/>
<rect x="152.68" y="432.97" width="33.97" height="3.42" fill="#feeb9c"/>
<rect x="152.68" y="436.09" width="33.97" height="2.69" fill="#20ae4f"/>
<rect x="152.68" y="438.48" width="33.97" height="6.18" fill="#13954a"/>
<rect x="152.68" y="444.35" width="33.97" height="3.61" fill="#feeb9c"/>
<rect x="152.68" y="447.66" width="33.97" height="4.89" fill="#20ae4f"/>
<rect x="152.68" y="452.25" width="33.97" height="3.05" fill="#feeb9c"/>
<rect x="186.35" y="309.00" width="33.97" height="1.40" fill="#fdb366"/>
<rect x="186.35" y="310.10" width="33.97" height="2.50" fill="#20ae4f"/>
<rect x="186.35" y="312.31" width="33.97" height="3.42" fill="#fed380"/>
<rect x="186.35" y="315.43" width="33.97" height="10.40" fill="#20ae4f"/>
<rect x="186.35" y="325.53" width="33.97" height="8.56" fill="#58be5f"/>
<rect x="186.35" y="333.79" width="33.97" height="32.44" fill="#20ae4f"/>
<rect x="186.35" y="365.93" width="33.97" height="3.05" fill="#58be5f"/>
<rect x="186.35" y="368.69" width="33.97" height="19.22" fill="#20ae4f"/>
<rect x="186.35" y="387.60" width="33.97" height="3.42" fill="#fc9653"/>
<rect x="186.35" y="390.73" width="33.97" height="3.05" fill="#58be5f"/>
<rect x="186.35" y="393.48" width="33.97" height="9.12" fill="#20ae4f"/>
<rect x="186.35" y="402.30" width="33.97" height="3.42" fill="#fc9653"/>
<rect x="186.35" y="405.42" width="33.97" height="2.50" fill="#20ae4f"/>
<rect x="186.35" y="407.62" width="33.97" height="3.61" fill="#58be5f"/>
<rect x="186.35" y="410.93" width="33.97" height="13.71" fill="#20ae4f"/>
<rect x="186.35" y="424.34" width="33.97" height="3.42" fill="#f96a3a"/>
<rect x="186.35" y="427.46" width="33.97" height="2.69" fill="#20ae4f"/>
<rect x="186.35" y="429.84" width="33.97" height="3.42" fill="#98d36a"/>
<rect x="186.35" y="432.97" width="33.97" height="3.05" fill="#f96a3a"/>
<rect x="186.35" y="435.72" width="33.97" height="3.05" fill="#feeb9c"/>
<rect x="186.35" y="438.48" width="33.97" height="3.05" fill="#fbfcb8"/>
<rect x="186.35" y="441.23" width="33.97" height="8.56" fill="#d0e989"/>
<rect x="186.35" y="449.50" width="33.97" height="3.05" fill="#fbfcb8"/>
<rect x="186.35" y="452.25" width="33.97" height="3.05" fill="#c4182a"/>
<rect x="18.00" y="455.00" width="33.97" height="3.05" fill="#ee3824"/>
<rect x="18.00" y="457.75" width="33.97" height="3.42" fill="#f96a3a"/>
<rect x="18.00" y="460.88" width="33.97" height="3.61" fill="#58be5f"/>
<rect x="18.00" y="464.18" width="33.97" height="3.05" fill="#20ae4f"/>
<rect x="18.00" y="466.94" width="33.97" height="3.05" fill="#06733a"/>
<rect x="18.00" y="469.69" width="33.97" height="3.05" fill="#d0e989"/>
<rect x="18.00" y="472.45" width="33.97" height="14.07" fill="#20ae4f"/>
<rect x="18.00" y="486.22" width="33.97" height="3.05" fill="#fdb366"/>
<rect x="18.00" y="488.98" width="33.97" height="5.81" fill="#feeb9c"/>
<rect x="18.00" y="494.49" width="33.97" height="8.93" fill="#20ae4f"/>
<rect x="18.00" y="503.12" width="33.97" height="3.61" fill="#fc9653"/>
<rect x="18.00" y="506.42" width="33.97" height="3.05" fill="#20ae4f"/>
<rect x="18.00" y="509.18" width="33.97" height="3.05" fill="#fdb366"/>
<rect x="18.00" y="511.93" width="33.97" height="2.14" fill="#20ae4f"/>
<rect x="18.00" y="513.77" width="33.97" height="3.97" fill="#feeb9c"/>
<rect x="18.00" y="517.44" width="33.97" height="5.81" fill="#fc9653"/>
<rect x="18.00" y="522.95" width="33.97" height="3.05" fill="#f96a3a"/>
<rect x="18.00" y="525.71" width="33.97" height="16.83" fill="#fdb366"/>
<rect x="18.00" y="542.24" width="33.97" height="4.34" fill="#d0e989"/>
<rect x="18.00" y="546.28" width="33.97" height="11.87" fill="#fc9653"/>
<rect x="18.00" y="557.85" width="33.97" height="2.14" fill="#fdb366"/>
<rect x="18.00" y="559.68" width="33.97" height="3.05" fill="#feeb9c"/>
<rect x="18.00" y="562.44" width="33.97" height="2.69" fill="#fc9653"/>
<rect x="18.00" y="564.83" width="33.97" height="3.42" fill="#20ae4f"/>
<rect x="18.00" y="567.95" width="33.97" height="3.42" fill="#f96a3a"/>
<rect x="18.00" y="571.07" width="33.97" height="3.24" fill="#20ae4f"/>
<rect x="18.00" y="574.01" width="33.97" height="3.42" fill="#fbfcb8"/>
<rect x="18.00" y="577.13" width="33.97" height="2.14" fill="#58be5f"/>
<rect x="18.00" y="578.97" width="33.97" height="3.05" fill="#fdb366"/>
<rect x="18.00" y="581.72" width="33.97" height="12.24" fill="#fed380"/>
<rect x="18.00" y="593.66" width="33.97" height="2.69" fill="#fc9653"/>
<rect x="18.00" y="596.05" width="33.97" height="5.26" fill="#13954a"/>
<rect x="51.67" y="455.00" width="33.97" height="3.61" fill="#98d36a"/>
<rect x="51.67" y="458.31" width="33.97" height="2.87" fill="#f96a3a"/>
<rect x="51.67" y="460.88" width="33.97" height="5.81" fill="#58be5f"/>
<rect x="51.67" y="466.39" width="33.97" height="3.61" fill="#d0e989"/>
<rect x="51.67" y="469.69" width="33.97" height="3.97" fill="#06733a"/>
<rect x="51.67" y="473.37" width="33.97" height="3.05" fill="#20ae4f"/>
<rect x="51.67" y="476.12" width="33.97" height="4.89" fill="#98d36a"/>
<rect x="51.67" y="480.71" width="33.97" height="5.81" fill="#20ae4f"/>
<rect x="51.67" y="486.22" width="33.97" height="8.56" fill="#fc9653"/>
<rect x="51.67" y="494.49" width="33.97" height="3.42" fill="#20ae4f"/>
<rect x="51.67" y="497.61" width="33.97" height="5.81" fill="#58be5f"/>
<rect x="51.67" y="503.12" width="33.97" height="3.61" fill="#fc9653"/>
<rect x="51.67" y="506.42" width="33.97" height="3.05" fill="#20ae4f"/>
<rect x="51.67" y="509.18" width="33.97" height="3.05" fill="#f96a3a"/>
<rect x="51.67" y="511.93" width="33.97" height="2.14" fill="#20ae4f"/>
<rect x="51.67" y="513.77" width="33.97" height="3.97" fill="#fc9653"/>
<rect x="51.67" y="517.44" width="33.97" height="5.81" fill="#fdb366"/>
<rect x="51.67" y="522.95" width="33.97" height="3.05" fill="#fbfcb8"/>
<rect x="51.67" y="525.71" width="33.97" height="3.05" fill="#fc9653"/>
<rect x="51.67" y="528.46" width="33.97" height="3.05" fill="#d0e989"/>
<rect x="51.67" y="531.22" width="33.97" height="3.42" fill="#fbfcb8"/>
<rect x="51.67" y="534.34" width="33.97" height="2.69" fill="#fc9653"/>
<rect x="51.67" y="536.73" width="33.97" height="3.42" fill="#f96a3a"/>
<rect x="51.67" y="539.85" width="33.97" height="2.69" fill="#fdb366"/>
<rect x="51.67" y="542.24" width="33.97" height="4.34" fill="#d0e989"/>
<rect x="51.67" y="546.28" width="33.97" height="18.85" fill="#fdb366"/>
<rect x="51.67" y="564.83" width="33.97" height="3.42" fill="#13954a"/>
<rect x="51.67" y="567.95" width="33.97" height="3.42" fill="#fc9653"/>
<rect x="51.67" y="571.07" width="33.97" height="3.24" fill="#20ae4f"/>
<rect x="51.67" y="574.01" width="33.97" height="3.42" fill="#f96a3a"/>
<rect x="51.67" y="577.13" width="33.97" height="2.14" fill="#20ae4f"/>
<rect x="51.67" y="578.97" width="33.97" height="3.05" fill="#fed380"/>
<rect x="51.67" y="581.72" width="33.97" height="3.05" fill="#fc9653"/>
<rect x="51.67" y="584.48" width="33.97" height="3.42" fill="#ee3824"/>
<rect x="51.67" y="587.60" width="33.97" height="3.05" fill="#fed380"/>
<rect x="51.67" y="590.35" width="33.97" height="3.61" fill="#f96a3a"/>
<rect x="51.67" y="593.66" width="33.97" height="2.69" fill="#fc9653"/>
<rect x="51.67" y="596.05" width="33.97" height="5.26" fill="#20ae4f"/>
<rect x="85.34" y="455.00" width="33.97" height="3.05" fill="#f96a3a"/>
<rect x="85.34" y="457.75" width="33.97" height="3.42" fill="#feeb9c"/>
<rect x="85.34" y="460.88" width="33.97" height="9.12" fill="#20ae4f"/>
<rect x="85.34" y="469.69" width="33.97" height="5.81" fill="#58be5f"/>
<rect x="85.34" y="475.20" width="33.97" height="11.32" fill="#20ae4f"/>
<rect x="85.34" y="486.22" width="33.97" height="8.56" fill="#fc9653"/>
<rect x="85.34" y="494.49" width="33.97" height="8.93" fill="#20ae4f"/>
<rect x="85.34" y="503.12" width="33.97" height="3.61" fill="#fc9653"/>
<rect x="85.34" y="506.42" width="33.97" height="3.05" fill="#20ae4f"/>
<rect x="85.34" y="509.18" width="33.97" height="3.05" fill="#fc9653"/>
<rect x="85.34" y="511.93" width="33.97" height="2.14" fill="#20ae4f"/>
<rect x="85.34" y="513.77" width="33.97" height="3.05" fill="#fc9653"/>
<rect x="85.34" y="516.52" width="33.97" height="3.97" fill="#fdb366"/>
<rect x="85.34" y="520.20" width="33.97" height="8.56" fill="#fc9653"/>
<rect x="85.34" y="528.46" width="33.97" height="6.18" fill="#ee3824"/>
<rect x="85.34" y="534.34" width="33.97" height="2.69" fill="#f96a3a"/>
<rect x="85.34" y="536.73" width="33.97" height="3.05" fill="#fed380"/>
<rect x="85.34" y="539.48" width="33.97" height="3.61" fill="#fc9653"/>
<rect x="85.34" y="542.79" width="33.97" height="3.42" fill="#c4182a"/>
<rect x="85.34" y="545.91" width="33.97" height="11.32" fill="#f96a3a"/>
<rect x="85.34" y="556.93" width="33.97" height="8.20" fill="#fc9653"/>
<rect x="85.34" y="564.83" width="33.97" height="3.42" fill="#20ae4f"/>
<rect x="85.34" y="567.95" width="33.97" height="3.42" fill="#fed380"/>
<rect x="85.34" y="571.07" width="33.97" height="3.24" fill="#20ae4f"/>
<rect x="85.34" y="574.01" width="33.97" height="3.42" fill="#fc9653"/>
<rect x="85.34" y="577.13" width="33.97" height="2.14" fill="#20ae4f"/>
<rect x="85.34" y="578.97" width="33.97" height="5.81" fill="#f96a3a"/>
<rect x="85.34" y="584.48" width="33.97" height="3.05" fill="#feeb9c"/>
<rect x="85.34" y="587.23" width="33.97" height="3.05" fill="#f96a3a"/>
<rect x="85.34" y="589.99" width="33.97" height="5.81" fill="#fc9653"/>
<rect x="85.34" y="595.50" width="33.97" height="3.42" fill="#feeb9c"/>
<rect x="85.34" y="598.62" width="33.97" height="2.69" fill="#fdb366"/>
<rect x="119.01" y="455.00" width="33.97" height="6.18" fill="#20ae4f"/>
<rect x="119.01" y="460.88" width="33.97" height="3.24" fill="#feeb9c"/>
<rect x="119.01" y="463.82" width="33.97" height="3.42" fill="#fc9653"/>
<rect x="119.01" y="466.94" width="33.97" height="3.05" fill="#fed380"/>
<rect x="119.01" y="469.69" width="33.97" height="3.05" fill="#feeb9c"/>
<rect x="119.01" y="472.45" width="33.97" height="3.05" fill="#fc9653"/>
<rect x="119.01" y="475.20" width="33.97" height="3.61" fill="#c4182a"/>
<rect x="119.01" y="478.51" width="33.97" height="2.50" fill="#f96a3a"/>
<rect x="119.01" y="480.71" width="33.97" height="3.05" fill="#feeb9c"/>
<rect x="119.01" y="483.47" width="33.97" height="2.69" fill="#fed380"/>
<rect x="119.01" y="485.85" width="33.97" height="8.93" fill="#20ae4f"/>
<rect x="119.01" y="494.49" width="33.97" height="3.42" fill="#feeb9c"/>
<rect x="119.01" y="497.61" width="33.97" height="3.24" fill="#fed380"/>
<rect x="119.01" y="500.55" width="33.97" height="2.87" fill="#fc9653"/>
<rect x="119.01" y="503.12" width="33.97" height="3.61" fill="#20ae4f"/>
<rect x="119.01" y="506.42" width="33.97" height="3.05" fill="#fc9653"/>
<rect x="119.01" y="509.18" width="33.97" height="3.05" fill="#20ae4f"/>
<rect x="119.01" y="511.93" width="33.97" height="2.50" fill="#fed380"/>
<rect x="119.01" y="514.14" width="33.97" height="9.12" fill="#20ae4f"/>
<rect x="119.01" y="522.95" width="33.97" height="3.05" fill="#58be5f"/>
<rect x="119.01" y="525.71" width="33.97" height="6.73" fill="#20ae4f"/>
<rect x="119.01" y="532.13" width="33.97" height="2.50" fill="#58be5f"/>
<rect x="119.01" y="534.34" width="33.97" height="5.81" fill="#20ae4f"/>
<rect x="119.01" y="539.85" width="33.97" height="3.24" fill="#13954a"/>
<rect x="119.01" y="542.79" width="33.97" height="3.42" fill="#98d36a"/>
<rect x="119.01" y="545.91" width="33.97" height="13.71" fill="#20ae4f"/>
<rect x="119.01" y="559.32" width="33.97" height="3.42" fill="#13954a"/>
<rect x="119.01" y="562.44" width="33.97" height="2.69" fill="#20ae4f"/>
<rect x="119.01" y="564.83" width="33.97" height="3.42" fill="#fed380"/>
<rect x="119.01" y="567.95" width="33.97" height="3.42" fill="#20ae4f"/>
<rect x="119.01" y="571.07" width="33.97" height="3.24" fill="#fc9653"/>
<rect x="119.01" y="574.01" width="33.97" height="2.50" fill="#20ae4f"/>
<rect x="119.01" y="576.21" width="33.97" height="3.05" fill="#fdb366"/>
<rect x="119.01" y="578.97" width="33.97" height="16.83" fill="#20ae4f"/>
<rect x="119.01" y="595.50" width="33.97" height="3.42" fill="#f96a3a"/>
<rect x="119.01" y="598.62" width="33.97" height="2.69" fill="#fdb366"/>
<rect x="152.68" y="455.00" width="33.97" height="3.61" fill="#98d36a"/>
<rect x="152.68" y="458.31" width="33.97" height="2.87" fill="#20ae4f"/>
<rect x="152.68" y="460.88" width="33.97" height="3.61" fill="#c4182a"/>
<rect x="152.68" y="464.18" width="33.97" height="3.05" fill="#f96a3a"/>
<rect x="152.68" y="466.94" width="33.97" height="3.05" fill="#fc9653"/>
<rect x="152.68" y="469.69" width="33.97" height="5.81" fill="#fed380"/>
<rect x="152.68" y="475.20" width="33.97" height="3.61" fill="#feeb9c"/>
<rect x="152.68" y="478.51" width="33.97" height="4.34" fill="#fc9653"/>
<rect x="152.68" y="482.55" width="33.97" height="3.61" fill="#feeb9c"/>
<rect x="152.68" y="485.85" width="33.97" height="8.93" fill="#20ae4f"/>
<rect x="152.68" y="494.49" width="33.97" height="3.42" fill="#ee3824"/>
<rect x="152.68" y="497.61" width="33.97" height="3.24" fill="#fed380"/>
<rect x="152.68" y="500.55" width="33.97" height="2.87" fill="#fc9653"/>
<rect x="152.68" y="503.12" width="33.97" height="3.61" fill="#20ae4f"/>
<rect x="152.68" y="506.42" width="33.97" height="3.05" fill="#fdb366"/>
<rect x="152.68" y="509.18" width="33.97" height="3.05" fill="#20ae4f"/>
<rect x="152.68" y="511.93" width="33.97" height="2.50" fill="#fc9653"/>
<rect x="152.68" y="514.14" width="33.97" height="14.63" fill="#20ae4f"/>
<rect x="152.68" y="528.46" width="33.97" height="3.05" fill="#feeb9c"/>
<rect x="152.68" y="531.22" width="33.97" height="8.93" fill="#20ae4f"/>
<rect x="152.68" y="539.85" width="33.97" height="3.24" fill="#13954a"/>
<rect x="152.68" y="542.79" width="33.97" height="16.83" fill="#20ae4f"/>
<rect x="152.68" y="559.32" width="33.97" height="3.42" fill="#13954a"/>
<rect x="152.68" y="562.44" width="33.97" height="2.69" fill="#20ae4f"/>
<rect x="152.68" y="564.83" width="33.97" height="3.42" fill="#fc9653"/>
<rect x="152.68" y="567.95" width="33.97" height="3.42" fill="#13954a"/>
<rect x="152.68" y="571.07" width="33.97" height="3.24" fill="#feeb9c"/>
<rect x="152.68" y="574.01" width="33.97" height="2.50" fill="#20ae4f"/>
<rect x="152.68" y="576.21" width="33.97" height="3.05" fill="#fc9653"/>
<rect x="152.68" y="578.97" width="33.97" height="16.83" fill="#20ae4f"/>
<rect x="152.68" y="595.50" width="33.97" height="5.81" fill="#fed380"/>
<rect x="186.35" y="455.00" width="33.97" height="6.18" fill="#20ae4f"/>
<rect x="186.35" y="460.88" width="33.97" height="5.81" fill="#d0e989"/>
<rect x="186.35" y="466.39" width="33.97" height="3.24" fill="#fed380"/>
<rect x="186.35" y="469.33" width="33.97" height="3.42" fill="#f96a3a"/>
<rect x="186.35" y="472.45" width="33.97" height="3.05" fill="#fed380"/>
<rect x="186.35" y="475.20" width="33.97" height="5.81" fill="#d0e989"/>
<rect x="186.35" y="480.71" width="33.97" height="5.44" fill="#f96a3a"/>
<rect x="186.35" y="485.85" width="33.97" height="8.93" fill="#20ae4f"/>
<rect x="186.35" y="494.49" width="33.97" height="3.42" fill="#feeb9c"/>
<rect x="186.35" y="497.61" width="33.97" height="5.81" fill="#fc9653"/>
<rect x="186.35" y="503.12" width="33.97" height="3.61" fill="#20ae4f"/>
<rect x="186.35" y="506.42" width="33.97" height="3.05" fill="#fc9653"/>
<rect x="186.35" y="509.18" width="33.97" height="3.05" fill="#20ae4f"/>
<rect x="186.35" y="511.93" width="33.97" height="2.50" fill="#fc9653"/>
<rect x="186.35" y="514.14" width="33.97" height="26.01" fill="#20ae4f"/>
<rect x="186.35" y="539.85" width="33.97" height="3.61" fill="#d0e989"/>
<rect x="186.35" y="543.15" width="33.97" height="3.05" fill="#98d36a"/>
<rect x="186.35" y="545.91" width="33.97" height="13.71" fill="#20ae4f"/>
<rect x="186.35" y="559.32" width="33.97" height="3.42" fill="#feeb9c"/>
<rect x="186.35" y="562.44" width="33.97" height="2.69" fill="#20ae4f"/>
<rect x="186.35" y="564.83" width="33.97" height="3.42" fill="#fc9653"/>
<rect x="186.35" y="567.95" width="33.97" height="3.42" fill="#98d36a"/>
<rect x="186.35" y="571.07" width="33.97" height="3.24" fill="#fc9653"/>
<rect x="186.35" y="574.01" width="33.97" height="2.50" fill="#20ae4f"/>
<rect x="186.35" y="576.21" width="33.97" height="3.05" fill="#fc9653"/>
<rect x="186.35" y="578.97" width="33.97" height="3.05" fill="#20ae4f"/>
<rect x="186.35" y="581.72" width="33.97" height="3.05" fill="#58be5f"/>
<rect x="186.35" y="584.48" width="33.97" height="11.32" fill="#20ae4f"/>
<rect x="186.35" y="595.50" width="33.97" height="3.42" fill="#98d36a"/>
<rect x="186.35" y="598.62" width="33.97" height="2.69" fill="#f96a3a"/>
<rect x="18.00" y="601.00" width="33.97" height="6.90" fill="#20ae4f"/>
<rect x="18.00" y="607.60" width="33.97" height="3.51" fill="#ee3824"/>
<rect x="18.00" y="610.81" width="33.97" height="3.32" fill="#feeb9c"/>
<rect x="18.00" y="613.83" width="33.97" height="2.56" fill="#f96a3a"/>
<rect x="18.00" y="616.09" width="33.97" height="3.13" fill="#fc9653"/>
<rect x="18.00" y="618.92" width="33.97" height="5.39" fill="#fdb366"/>
<rect x="18.00" y="624.02" width="33.97" height="3.32" fill="#20ae4f"/>
<rect x="18.00" y="627.04" width="33.97" height="2.56" fill="#fc9653"/>
<rect x="18.00" y="629.30" width="33.97" height="3.13" fill="#ee3824"/>
<rect x="18.00" y="632.13" width="33.97" height="6.90" fill="#feeb9c"/>
<rect x="18.00" y="638.74" width="33.97" height="2.56" fill="#f96a3a"/>
<rect x="18.00" y="641.00" width="33.97" height="2.75" fill="#fed380"/>
<rect x="18.00" y="643.45" width="33.97" height="5.96" fill="#fdb366"/>
<rect x="18.00" y="649.11" width="33.97" height="8.79" fill="#fc9653"/>
<rect x="18.00" y="657.60" width="33.97" height="5.96" fill="#20ae4f"/>
<rect x="18.00" y="663.26" width="33.97" height="3.13" fill="#fed380"/>
<rect x="18.00" y="666.09" width="33.97" height="3.13" fill="#fdb366"/>
<rect x="18.00" y="668.92" width="33.97" height="3.70" fill="#fed380"/>
<rect x="18.00" y="672.32" width="33.97" height="4.83" fill="#20ae4f"/>
<rect x="18.00" y="676.85" width="33.97" height="5.96" fill="#fdb366"/>
<rect x="18.00" y="682.51" width="33.97" height="9.36" fill="#20ae4f"/>
<rect x="18.00" y="691.57" width="33.97" height="5.96" fill="#58be5f"/>
<rect x="18.00" y="697.23" width="33.97" height="3.13" fill="#20ae4f"/>
<rect x="18.00" y="700.06" width="33.97" height="3.13" fill="#fc9653"/>
<rect x="18.00" y="702.89" width="33.97" height="5.02" fill="#feeb9c"/>
<rect x="18.00" y="707.60" width="33.97" height="3.13" fill="#fc9653"/>
<rect x="18.00" y="710.43" width="33.97" height="11.62" fill="#20ae4f"/>
<rect x="18.00" y="721.75" width="33.97" height="3.13" fill="#fdb366"/>
<rect x="18.00" y="724.58" width="33.97" height="3.51" fill="#fc9653"/>
<rect x="18.00" y="727.79" width="33.97" height="3.32" fill="#20ae4f"/>
<rect x="18.00" y="730.81" width="33.97" height="3.51" fill="#fed380"/>
<rect x="18.00" y="734.02" width="33.97" height="3.13" fill="#20ae4f"/>
<rect x="18.00" y="736.85" width="33.97" height="3.13" fill="#fc9653"/>
<rect x="18.00" y="739.68" width="33.97" height="7.85" fill="#20ae4f"/>
<rect x="18.00" y="747.23" width="33.97" height="4.07" fill="#13954a"/>
<rect x="51.67" y="601.00" width="33.97" height="6.90" fill="#13954a"/>
<rect x="51.67" y="607.60" width="33.97" height="3.13" fill="#98d36a"/>
<rect x="51.67" y="610.43" width="33.97" height="5.96" fill="#f96a3a"/>
<rect x="51.67" y="616.09" width="33.97" height="2.56" fill="#fed380"/>
<rect x="51.67" y="618.36" width="33.97" height="3.32" fill="#d0e989"/>
<rect x="51.67" y="621.38" width="33.97" height="2.94" fill="#fc9653"/>
<rect x="51.67" y="624.02" width="33.97" height="3.32" fill="#20ae4f"/>
<rect x="51.67" y="627.04" width="33.97" height="2.56" fill="#fc9653"/>
<rect x="51.67" y="629.30" width="33.97" height="3.13" fill="#fbfcb8"/>
<rect x="51.67" y="632.13" width="33.97" height="4.07" fill="#c4182a"/>
<rect x="51.67" y="635.91" width="33.97" height="5.39" fill="#fc9653"/>
<rect x="51.67" y="641.00" width="33.97" height="2.75" fill="#ee3824"/>
<rect x="51.67" y="643.45" width="33.97" height="5.02" fill="#f96a3a"/>
<rect x="51.67" y="648.17" width="33.97" height="9.73" fill="#fc9653"/>
<rect x="51.67" y="657.60" width="33.97" height="5.96" fill="#58be5f"/>
<rect x="51.67" y="663.26" width="33.97" height="9.36" fill="#f96a3a"/>
<rect x="51.67" y="672.32" width="33.97" height="3.51" fill="#98d36a"/>
<rect x="51.67" y="675.53" width="33.97" height="7.28" fill="#fdb366"/>
<rect x="51.67" y="682.51" width="33.97" height="12.19" fill="#13954a"/>
<rect x="51.67" y="694.40" width="33.97" height="3.13" fill="#06733a"/>
<rect x="51.67" y="697.23" width="33.97" height="5.96" fill="#20ae4f"/>
<rect x="51.67" y="702.89" width="33.97" height="5.02" fill="#ee3824"/>
<rect x="51.67" y="707.60" width="33.97" height="3.51" fill="#feeb9c"/>
<rect x="51.67" y="710.81" width="33.97" height="3.32" fill="#98d36a"/>
<rect x="51.67" y="713.83" width="33.97" height="5.96" fill="#20ae4f"/>
<rect x="51.67" y="719.49" width="33.97" height="3.13" fill="#06733a"/>
<rect x="51.67" y="722.32" width="33.97" height="2.56" fill="#f96a3a"/>
<rect x="51.67" y="724.58" width="33.97" height="3.51" fill="#feeb9c"/>
<rect x="51.67" y="727.79" width="33.97" height="3.32" fill="#20ae4f"/>
<rect x="51.67" y="730.81" width="33.97" height="3.51" fill="#feeb9c"/>
<rect x="51.67" y="734.02" width="33.97" height="3.13" fill="#20ae4f"/>
<rect x="51.67" y="736.85" width="33.97" height="3.13" fill="#fed380"/>
<rect x="51.67" y="739.68" width="33.97" height="5.96" fill="#20ae4f"/>
<rect x="51.67" y="745.34" width="33.97" height="5.96" fill="#58be5f"/>
<rect x="85.34" y="601.00" width="33.97" height="1.24" fill="#20ae4f"/>
<rect x="85.34" y="601.94" width="33.97" height="3.13" fill="#58be5f"/>
<rect x="85.34" y="604.77" width="33.97" height="3.13" fill="#20ae4f"/>
<rect x="85.34" y="607.60" width="33.97" height="3.13" fill="#fc9653"/>
<rect x="85.34" y="610.43" width="33.97" height="2.56" fill="#feeb9c"/>
<rect x="85.34" y="612.70" width="33.97" height="5.96" fill="#fc9653"/>
<rect x="85.34" y="618.36" width="33.97" height="3.32" fill="#ee3824"/>
<rect x="85.34" y="621.38" width="33.97" height="2.94" fill="#fc9653"/>
<rect x="85.34" y="624.02" width="33.97" height="3.32" fill="#20ae4f"/>
<rect x="85.34" y="627.04" width="33.97" height="6.34" fill="#fed380"/>
<rect x="85.34" y="633.08" width="33.97" height="3.13" fill="#d0e989"/>
<rect x="85.34" y="635.91" width="33.97" height="3.13" fill="#fc9653"/>
<rect x="85.34" y="638.74" width="33.97" height="5.02" fill="#fed380"/>
<rect x="85.34" y="643.45" width="33.97" height="3.13" fill="#fdb366"/>
<rect x="85.34" y="646.28" width="33.97" height="11.62" fill="#fc9653"/>
<rect x="85.34" y="657.60" width="33.97" height="3.70" fill="#20ae4f"/>
<rect x="85.34" y="661.00" width="33.97" height="2.56" fill="#98d36a"/>
<rect x="85.34" y="663.26" width="33.97" height="9.36" fill="#fc9653"/>
<rect x="85.34" y="672.32" width="33.97" height="2.56" fill="#98d36a"/>
<rect x="85.34" y="674.58" width="33.97" height="2.56" fill="#20ae4f"/>
<rect x="85.34" y="676.85" width="33.97" height="5.96" fill="#f96a3a"/>
<rect x="85.34" y="682.51" width="33.97" height="3.70" fill="#98d36a"/>
<rect x="85.34" y="685.91" width="33.97" height="5.96" fill="#58be5f"/>
<rect x="85.34" y="691.57" width="33.97" height="5.96" fill="#98d36a"/>
<rect x="85.34" y="697.23" width="33.97" height="5.96" fill="#20ae4f"/>
<rect x="85.34" y="702.89" width="33.97" height="5.02" fill="#feeb9c"/>
<rect x="85.34" y="707.60" width="33.97" height="3.51" fill="#f96a3a"/>
<rect x="85.34" y="710.81" width="33.97" height="3.32" fill="#13954a"/>
<rect x="85.34" y="713.83" width="33.97" height="5.96" fill="#20ae4f"/>
<rect x="85.34" y="719.49" width="33.97" height="3.13" fill="#d0e989"/>
<rect x="85.34" y="722.32" width="33.97" height="5.77" fill="#fc9653"/>
<rect x="85.34" y="727.79" width="33.97" height="3.32" fill="#20ae4f"/>
<rect x="85.34" y="730.81" width="33.97" height="3.51" fill="#ee3824"/>
<rect x="85.34" y="734.02" width="33.97" height="3.13" fill="#20ae4f"/>
<rect x="85.34" y="736.85" width="33.97" height="3.13" fill="#fc9653"/>
<rect x="85.34" y="739.68" width="33.97" height="7.85" fill="#20ae4f"/>
<rect x="85.34" y="747.23" width="33.97" height="4.07" fill="#98d36a"/>
<rect x="119.01" y="601.00" width="33.97" height="6.90" fill="#fc9653"/>
<rect x="119.01" y="607.60" width="33.97" height="11.62" fill="#20ae4f"/>
<rect x="119.01" y="618.92" width="33.97" height="2.19" fill="#58be5f"/>
<rect x="119.01" y="620.81" width="33.97" height="3.51" fill="#20ae4f"/>
<rect x="119.01" y="624.02" width="33.97" height="3.32" fill="#fc9653"/>
<rect x="119.01" y="627.04" width="33.97" height="6.34" fill="#20ae4f"/>
<rect x="119.01" y="633.08" width="33.97" height="3.13" fill="#58be5f"/>
<rect x="119.01" y="635.91" width="33.97" height="22.00" fill="#20ae4f"/>
<rect x="119.01" y="657.60" width="33.97" height="3.70" fill="#fc9653"/>
<rect x="119.01" y="661.00" width="33.97" height="2.56" fill="#feeb9c"/>
<rect x="119.01" y="663.26" width="33.97" height="9.36" fill="#20ae4f"/>
<rect x="119.01" y="672.32" width="33.97" height="4.83" fill="#feeb9c"/>
<rect x="119.01" y="676.85" width="33.97" height="3.70" fill="#20ae4f"/>
<rect x="119.01" y="680.25" width="33.97" height="3.13" fill="#98d36a"/>
<rect x="119.01" y="683.08" width="33.97" height="8.79" fill="#fdb366"/>
<rect x="119.01" y="691.57" width="33.97" height="3.13" fill="#98d36a"/>
<rect x="119.01" y="694.40" width="33.97" height="5.96" fill="#fdb366"/>
<rect x="119.01" y="700.06" width="33.97" height="3.13" fill="#fc9653"/>
<rect x="119.01" y="702.89" width="33.97" height="8.22" fill="#20ae4f"/>
<rect x="119.01" y="710.81" width="33.97" height="3.32" fill="#fc9653"/>
<rect x="119.01" y="713.83" width="33.97" height="2.94" fill="#feeb9c"/>
<rect x="119.01" y="716.47" width="33.97" height="6.15" fill="#fc9653"/>
<rect x="119.01" y="722.32" width="33.97" height="5.77" fill="#20ae4f"/>
<rect x="119.01" y="727.79" width="33.97" height="3.70" fill="#fc9653"/>
<rect x="119.01" y="731.19" width="33.97" height="3.13" fill="#20ae4f"/>
<rect x="119.01" y="734.02" width="33.97" height="3.13" fill="#feeb9c"/>
<rect x="119.01" y="736.85" width="33.97" height="3.13" fill="#20ae4f"/>
<rect x="119.01" y="739.68" width="33.97" height="5.96" fill="#fdb366"/>
<rect x="119.01" y="745.34" width="33.97" height="5.96" fill="#d0e989"/>
<rect x="152.68" y="601.00" width="33.97" height="6.90" fill="#fdb366"/>
<rect x="152.68" y="607.60" width="33.97" height="5.39" fill="#20ae4f"/>
<rect x="152.68" y="612.70" width="33.97" height="2.75" fill="#58be5f"/>
<rect x="152.68" y="615.15" width="33.97" height="5.96" fill="#20ae4f"/>
<rect x="152.68" y="620.81" width="33.97" height="3.51" fill="#98d36a"/>
<rect x="152.68" y="624.02" width="33.97" height="3.32" fill="#fc9653"/>
<rect x="152.68" y="627.04" width="33.97" height="5.39" fill="#20ae4f"/>
<rect x="152.68" y="632.13" width="33.97" height="5.02" fill="#98d36a"/>
<rect x="152.68" y="636.85" width="33.97" height="5.02" fill="#20ae4f"/>
<rect x="152.68" y="641.57" width="33.97" height="5.02" fill="#98d36a"/>
<rect x="152.68" y="646.28" width="33.97" height="11.62" fill="#20ae4f"/>
<rect x="152.68" y="657.60" width="33.97" height="5.96" fill="#feeb9c"/>
<rect x="152.68" y="663.26" width="33.97" height="3.13" fill="#20ae4f"/>
<rect x="152.68" y="666.09" width="33.97" height="3.51" fill="#98d36a"/>
<rect x="152.68" y="669.30" width="33.97" height="3.32" fill="#20ae4f"/>
<rect x="152.68" y="672.32" width="33.97" height="4.83" fill="#ee3824"/>
<rect x="152.68" y="676.85" width="33.97" height="5.96" fill="#20ae4f"/>
<rect x="152.68" y="682.51" width="33.97" height="3.70" fill="#fbfcb8"/>
<rect x="152.68" y="685.91" width="33.97" height="8.79" fill="#fdb366"/>
<rect x="152.68" y="694.40" width="33.97" height="5.96" fill="#fed380"/>
<rect x="152.68" y="700.06" width="33.97" height="3.13" fill="#fc9653"/>
<rect x="152.68" y="702.89" width="33.97" height="11.24" fill="#20ae4f"/>
<rect x="152.68" y="713.83" width="33.97" height="8.79" fill="#f96a3a"/>
<rect x="152.68" y="722.32" width="33.97" height="5.77" fill="#20ae4f"/>
<rect x="152.68" y="727.79" width="33.97" height="3.70" fill="#f96a3a"/>
<rect x="152.68" y="731.19" width="33.97" height="3.13" fill="#20ae4f"/>
<rect x="152.68" y="734.02" width="33.97" height="3.13" fill="#feeb9c"/>
<rect x="152.68" y="736.85" width="33.97" height="3.13" fill="#20ae4f"/>
<rect x="152.68" y="739.68" width="33.97" height="3.13" fill="#f96a3a"/>
<rect x="152.68" y="742.51" width="33.97" height="2.56" fill="#fed380"/>
<rect x="152.68" y="744.77" width="33.97" height="3.32" fill="#c4182a"/>
<rect x="152.68" y="747.79" width="33.97" height="3.51" fill="#fc9653"/>
<rect x="186.35" y="601.00" width="33.97" height="6.90" fill="#fc9653"/>
<rect x="186.35" y="607.60" width="33.97" height="16.72" fill="#20ae4f"/>
<rect x="186.35" y="624.02" width="33.97" height="3.32" fill="#fc9653"/>
<rect x="186.35" y="627.04" width="33.97" height="30.87" fill="#20ae4f"/>
<rect x="186.35" y="657.60" width="33.97" height="3.13" fill="#f96a3a"/>
<rect x="186.35" y="660.43" width="33.97" height="3.51" fill="#ee3824"/>
<rect x="186.35" y="663.64" width="33.97" height="8.98" fill="#20ae4f"/>
<rect x="186.35" y="672.32" width="33.97" height="4.83" fill="#feeb9c"/>
<rect x="186.35" y="676.85" width="33.97" height="5.96" fill="#20ae4f"/>
<rect x="186.35" y="682.51" width="33.97" height="9.36" fill="#f96a3a"/>
<rect x="186.35" y="691.57" width="33.97" height="3.13" fill="#ee3824"/>
<rect x="186.35" y="694.40" width="33.97" height="5.96" fill="#f96a3a"/>
<rect x="186.35" y="700.06" width="33.97" height="3.13" fill="#feeb9c"/>
<rect x="186.35" y="702.89" width="33.97" height="8.22" fill="#20ae4f"/>
<rect x="186.35" y="710.81" width="33.97" height="3.32" fill="#fdb366"/>
<rect x="186.35" y="713.83" width="33.97" height="8.22" fill="#feeb9c"/>
<rect x="186.35" y="721.75" width="33.97" height="6.34" fill="#20ae4f"/>
<rect x="186.35" y="727.79" width="33.97" height="3.70" fill="#feeb9c"/>
<rect x="186.35" y="731.19" width="33.97" height="3.13" fill="#20ae4f"/>
<rect x="186.35" y="734.02" width="33.97" height="3.13" fill="#c4182a"/>
<rect x="186.35" y="736.85" width="33.97" height="3.13" fill="#20ae4f"/>
<rect x="186.35" y="739.68" width="33.97" height="3.13" fill="#fc9653"/>
<rect x="186.35" y="742.51" width="33.97" height="3.13" fill="#f96a3a"/>
<rect x="186.35" y="745.34" width="33.97" height="2.75" fill="#fc9653"/>
<rect x="186.35" y="747.79" width="33.97" height="3.51" fill="#f96a3a"/>
</g>
<g id="cb">
<rect x="4" y="17.5" width="10.2" height="317.40" fill="#66cfc4"/>
<rect x="4" y="334.7" width="10.2" height="95.70" fill="#ffffb3"/>
<rect x="4" y="430.2" width="10.2" height="55.70" fill="#bebada"/>
<rect x="4" y="485.7" width="10.2" height="57.40" fill="#fb8072"/>
<rect x="4" y="542.9" width="10.2" height="47.40" fill="#6aaed6"/>
<rect x="4" y="590.1" width="10.2" height="47.90" fill="#fdb462"/>
<rect x="4" y="637.8" width="10.2" height="45.10" fill="#a6d960"/>
<rect x="4" y="682.7" width="10.2" height="27.60" fill="#fcb5d6"/>
<rect x="4" y="710.1" width="10.2" height="24.00" fill="#d9d9d9"/>
<rect x="4" y="733.9" width="10.2" height="13.50" fill="#c77fc4"/>
<rect x="4" y="747.2" width="10.2" height="4.20" fill="#c0ebc4"/>
</g>
<text class="h" x="225.3" y="11.4">Group</text>
<text class="h" x="230" y="27.4">Z-score</text>
<rect x="229" y="36.8" width="20.3" height="241" fill="url(#zs)"/>
<g stroke="#fff" stroke-width="1">
<path d="M229 39.4h4M245.3 39.4h4M229 99h4M245.3 99h4M229 157.5h4M245.3 157.5h4M229 216h4M245.3 216h4M229 274.7h4M245.3 274.7h4"/>
</g>
<text class="k" x="254.2" y="43.5">2</text>
<text class="k" x="254.2" y="103.1">1</text>
<text class="k" x="254.2" y="161.6">0</text>
<text class="k" x="254.2" y="220.1">-1</text>
<text class="k" x="254.2" y="278.8">-2</text>
<text class="h" x="298.6" y="27.5">Group</text>
<rect x="299.9" y="37.6" width="18" height="18.9" fill="#0a9a76"/>
<rect x="299.9" y="56.4" width="18" height="18.8" fill="#fa5f0a"/>
<text class="t" x="322.4" y="50.8">FR</text>
<text class="t" x="322.4" y="69.7">UFR</text>
<text class="h" x="365.9" y="27.5">Class</text>
<rect x="366.6" y="37.70" width="18.5" height="19.30" fill="#66cfc4"/>
<text x="390.5" y="50.65" class="t">Amino acids and derivatives</text>
<rect x="366.6" y="56.80" width="18.5" height="19.30" fill="#ffffb3"/>
<text x="390.5" y="69.75" class="t">Alkaloids</text>
<rect x="366.6" y="75.90" width="18.5" height="19.30" fill="#bebada"/>
<text x="390.5" y="88.85" class="t">Flavonoids</text>
<rect x="366.6" y="95.00" width="18.5" height="19.30" fill="#fb8072"/>
<text x="390.5" y="107.95" class="t">Nucleotides and derivatives</text>
<rect x="366.6" y="114.10" width="18.5" height="19.30" fill="#6aaed6"/>
<text x="390.5" y="127.05" class="t">Organic acids</text>
<rect x="366.6" y="133.20" width="18.5" height="19.30" fill="#fdb462"/>
<text x="390.5" y="146.15" class="t">Others</text>
<rect x="366.6" y="152.30" width="18.5" height="19.30" fill="#a6d960"/>
<text x="390.5" y="165.25" class="t">Phenolic acids</text>
<rect x="366.6" y="171.40" width="18.5" height="19.30" fill="#fcb5d6"/>
<text x="390.5" y="184.35" class="t">Lipids</text>
<rect x="366.6" y="190.50" width="18.5" height="19.30" fill="#d9d9d9"/>
<text x="390.5" y="203.45" class="t">Terpenoids</text>
<rect x="366.6" y="209.60" width="18.5" height="19.30" fill="#c77fc4"/>
<text x="390.5" y="222.55" class="t">Lignans and Coumarins</text>
<rect x="366.6" y="228.70" width="18.5" height="19.30" fill="#c0ebc4"/>
<text x="390.5" y="241.65" class="t">Tannins</text>
<text class="h" transform="translate(5.50,757.40) rotate(45)" x="0" y="0">Class</text>
<text class="h" transform="translate(32.04,761.20) rotate(45)" x="0" y="0">FR-1</text>
<text class="h" transform="translate(65.70,761.20) rotate(45)" x="0" y="0">FR-2</text>
<text class="h" transform="translate(99.38,761.20) rotate(45)" x="0" y="0">FR-3</text>
<text class="h" transform="translate(133.04,761.20) rotate(45)" x="0" y="0">UFR-1</text>
<text class="h" transform="translate(166.72,761.20) rotate(45)" x="0" y="0">UFR-2</text>
<text class="h" transform="translate(200.39,761.20) rotate(45)" x="0" y="0">UFR-3</text>
</svg>
</body></html>
